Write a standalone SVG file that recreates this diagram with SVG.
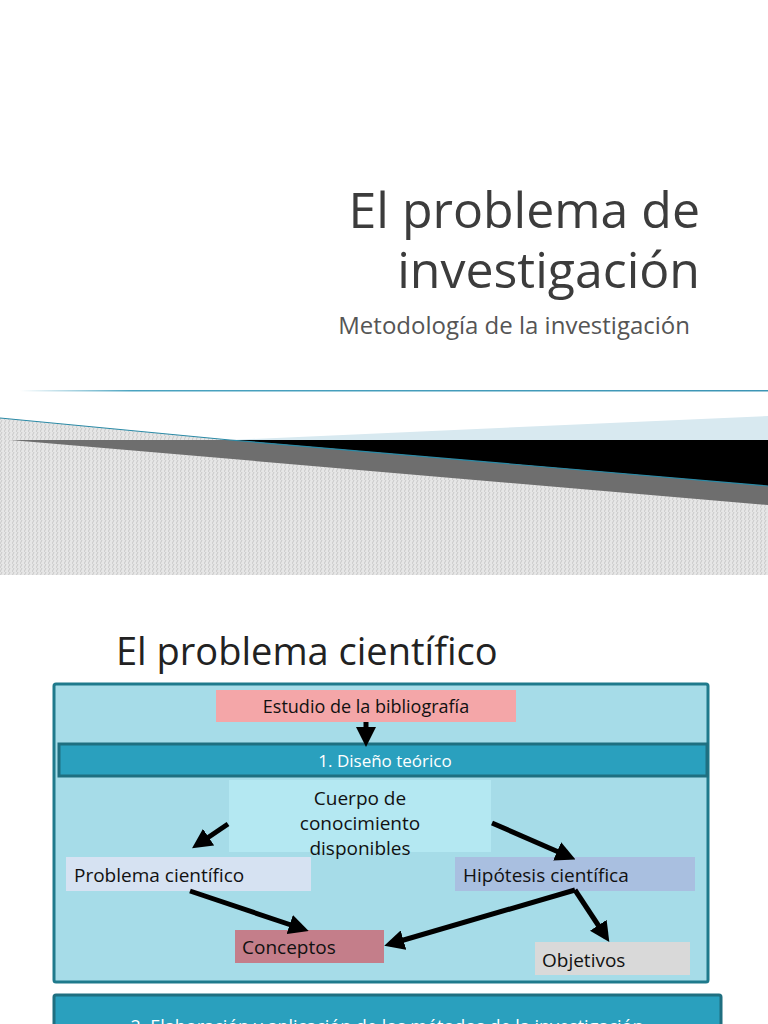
<svg xmlns="http://www.w3.org/2000/svg" width="768" height="1024" viewBox="0 0 768 1024">
<defs>
<linearGradient id="ln" x1="0" x2="1"><stop offset="0" stop-color="#ffffff"/><stop offset="0.15" stop-color="#4aa3c0"/><stop offset="1" stop-color="#3d95b5"/></linearGradient>
<pattern id="hatch" width="4" height="4" patternUnits="userSpaceOnUse"><rect width="4" height="4" fill="#e6e6e6"/><path d="M0,4 L2,0" stroke="#c8c8c8" stroke-width="1"/></pattern>
<marker id="ah" viewBox="0 0 10 10" refX="7" refY="5" markerWidth="4" markerHeight="4" orient="auto"><path d="M0,0 L10,5 L0,10 z" fill="#000"/></marker>
</defs>
<style>
.t{font-family:"Open Sans","DejaVu Sans",sans-serif;fill:#111}
.box{stroke:none}
.arr{stroke:#000;stroke-width:5;fill:none;marker-end:url(#ah)}
</style>
<rect width="768" height="1024" fill="#fff"/>
<text class="t" x="700" y="228" font-size="50" text-anchor="end" fill="#3c3c3c" style="fill:#3c3c3c">El problema de</text>
<text class="t" x="700" y="288" font-size="50" text-anchor="end" style="fill:#3c3c3c">investigación</text>
<text class="t" x="690" y="334" font-size="24" text-anchor="end" style="fill:#555">Metodología de la investigación</text>
<rect x="20" y="390" width="748" height="1.5" fill="url(#ln)"/>
<polygon points="0,418 230,440 768,486 768,575 0,575" fill="url(#hatch)"/>
<polygon points="10,440 768,505 768,486 230,440" fill="#6e6e6e"/>
<polygon points="230,440 768,440 768,486" fill="#000"/>
<polygon points="230,440 768,416 768,440" fill="#d8e9f0"/>
<polyline points="0,418 230,440 768,486" fill="none" stroke="#2b8aa6" stroke-width="1.2"/>
<text class="t" x="116" y="665" font-size="38" style="fill:#222">El problema científico</text>
<g id="outer"><rect x="54" y="684" width="654" height="298" rx="2" fill="#a6dce8" stroke="#1f7a8c" stroke-width="3"/></g>
<g id="estudio"><rect class="box" x="216" y="690" width="300" height="32" fill="#f4a6a8"/><text class="t" x="366" y="713" font-size="18" text-anchor="middle">Estudio de la bibliografía</text></g>
<g id="diseno"><rect x="59" y="744" width="648" height="32" fill="#2aa0be" stroke="#1f6f80" stroke-width="3"/><text class="t" x="385" y="767" font-size="17" text-anchor="middle" style="fill:#fff">1. Diseño teórico</text></g>
<g id="cuerpo"><rect class="box" x="229" y="780" width="262" height="72" fill="#b4e8f2"/><text class="t" x="360" y="805" font-size="19" text-anchor="middle">Cuerpo de</text><text class="t" x="360" y="830" font-size="19" text-anchor="middle">conocimiento</text><text class="t" x="360" y="855" font-size="19" text-anchor="middle">disponibles</text></g>
<g id="problema"><rect class="box" x="66" y="857" width="245" height="34" fill="#d6e2f2"/><text class="t" x="74" y="882" font-size="19">Problema científico</text></g>
<g id="hipotesis"><rect class="box" x="455" y="857" width="240" height="34" fill="#a9bfe0"/><text class="t" x="463" y="882" font-size="19">Hipótesis científica</text></g>
<g id="conceptos"><rect class="box" x="235" y="930" width="149" height="33" fill="#c47e8a"/><text class="t" x="242" y="954" font-size="19">Conceptos</text></g>
<g id="objetivos"><rect class="box" x="535" y="942" width="155" height="33" fill="#d9d9d9"/><text class="t" x="542" y="967" font-size="19">Objetivos</text></g>
<g id="connectors">
<line class="arr" x1="366" y1="722" x2="366" y2="741"/>
<line class="arr" x1="228" y1="824" x2="197" y2="845"/>
<line class="arr" x1="492" y1="823" x2="570" y2="857"/>
<line class="arr" x1="190" y1="891" x2="303" y2="929"/>
<line class="arr" x1="575" y1="890" x2="390" y2="944"/>
<line class="arr" x1="575" y1="890" x2="606" y2="937"/>
</g>
<g id="step2"><rect x="54" y="995" width="667" height="45" rx="2" fill="#2aa0be" stroke="#1f6f80" stroke-width="3"/><text class="t" x="387" y="1033" font-size="18" text-anchor="middle" style="fill:#fff">2. Elaboración y aplicación de los métodos de la investigación</text></g>
</svg>
